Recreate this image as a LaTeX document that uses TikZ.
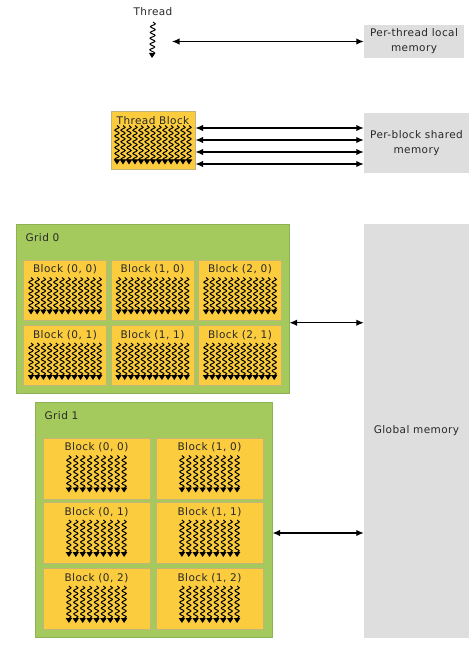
\documentclass[tikz,border=0pt]{standalone}
\usepackage{fontspec}
\newfontfamily\lblfont[LetterSpace=4]{DejaVu Sans}
\usetikzlibrary{arrows.meta,decorations.pathmorphing,calc}
\definecolor{blkyellow}{RGB}{250,204,62}
\definecolor{blkedge}{RGB}{196,180,120}
\definecolor{gridgreen}{RGB}{164,202,94}
\definecolor{gridedge}{RGB}{140,178,84}
\definecolor{memgray}{RGB}{222,222,222}
\definecolor{txtgray}{RGB}{40,40,40}
\tikzset{
  lbl/.style={font=\lblfont\fontsize{10.5pt}{15pt}\selectfont, text=txtgray},
  mem/.style={lbl, fill=memgray, align=center, inner sep=0pt},
  blk/.style={draw=blkedge, fill=blkyellow, line width=1pt, inner sep=0pt},
  gridbox/.style={draw=gridedge, fill=gridgreen, line width=1pt, inner sep=0pt},
  toplbl/.style={lbl, anchor=north, inner sep=5pt},
  cornerlbl/.style={lbl, anchor=north west, inner sep=0pt, xshift=10pt, yshift=-10pt},
  thr/.style={line width=1pt, decorate,
    decoration={snake, amplitude=2.1pt, segment length=5.8pt, post length=3pt},
    -{Triangle[length=5pt,width=6.2pt]}},
  link/.style={<->, line width=1.3pt}
}
\begin{document}
\begin{tikzpicture}[x=1pt, y=-1pt, >={Latex[length=7.5pt,width=6.5pt]}]
\useasboundingbox (0,0) rectangle (474,647);
% one thread
\node[lbl] (thrlbl) at (153,12) {Thread};
\coordinate (thrtop) at (153,22);
\coordinate (thrbot) at (152,58);
\draw[thr, decoration={amplitude=2.4pt}] (thrtop) -- (thrbot);
\node[mem, minimum width=100, minimum height=33] (ptl) at (414,41.5) {Per-thread local\\memory};
\coordinate (throut) at (172,41.5);
\draw[link] (throut) -- (ptl.west);
% thread block
\node[blk, minimum width=84, minimum height=58,
  label={[toplbl]north:Thread Block}] (tb) at (153,141) {};
\foreach \k in {0,...,12}
  \draw[thr] ([xshift={-36+6*\k}, yshift=-14]tb.north) -- ++(0,39);
\node[mem, minimum width=105, minimum height=60] (pbs) at (416.5,143) {Per-block shared\\memory};
\foreach \dy in {13,1,-11,-23}
  \draw[link] ([yshift=\dy]tb.east) -- ([yshift=\dy]tb.east -| pbs.west);
% global memory
\node[mem, minimum width=105, minimum height=414] (gm) at (416.5,431) {Global memory};
% grid 0
\node[gridbox, minimum width=273, minimum height=169,
  label={[cornerlbl]north west:Grid 0}] (g0) at (152.5,308.5) {};
\foreach \c/\x in {0/65,1/152.5,2/240}
  \foreach \r/\y in {0/290,1/355.5} {
    \node[blk, minimum width=83, minimum height=60,
      label={[toplbl]north:Block (\c, \r)}] (g0b\c\r) at (\x,\y) {};
    \foreach \k in {0,...,11}
      \draw[thr] ([xshift={-34+6.2*\k}, yshift=-18]g0b\c\r.north) -- ++(0,37);
  }
\coordinate (g0mid) at ($(g0b20.south)!.5!(g0b21.north)$);
\draw[link] (g0.east |- g0mid) -- (gm.west |- g0mid);
% grid 1
\node[gridbox, minimum width=237, minimum height=235,
  label={[cornerlbl]north west:Grid 1}] (g1) at (153.5,519.5) {};
\foreach \c/\x in {0/96.5,1/209.5}
  \foreach \r/\y in {0/468.5,1/533,2/599} {
    \node[blk, minimum width=107, minimum height=61,
      label={[toplbl]north:Block (\c, \r)}] (g1b\c\r) at (\x,\y) {};
    \foreach \k in {0,...,8}
      \draw[thr] ([xshift={-27.6+6.9*\k}, yshift=-18]g1b\c\r.north) -- ++(0,37);
  }
\draw[link] (g1.east |- g1b11) -- (gm.west |- g1b11);
\end{tikzpicture}
\end{document}
